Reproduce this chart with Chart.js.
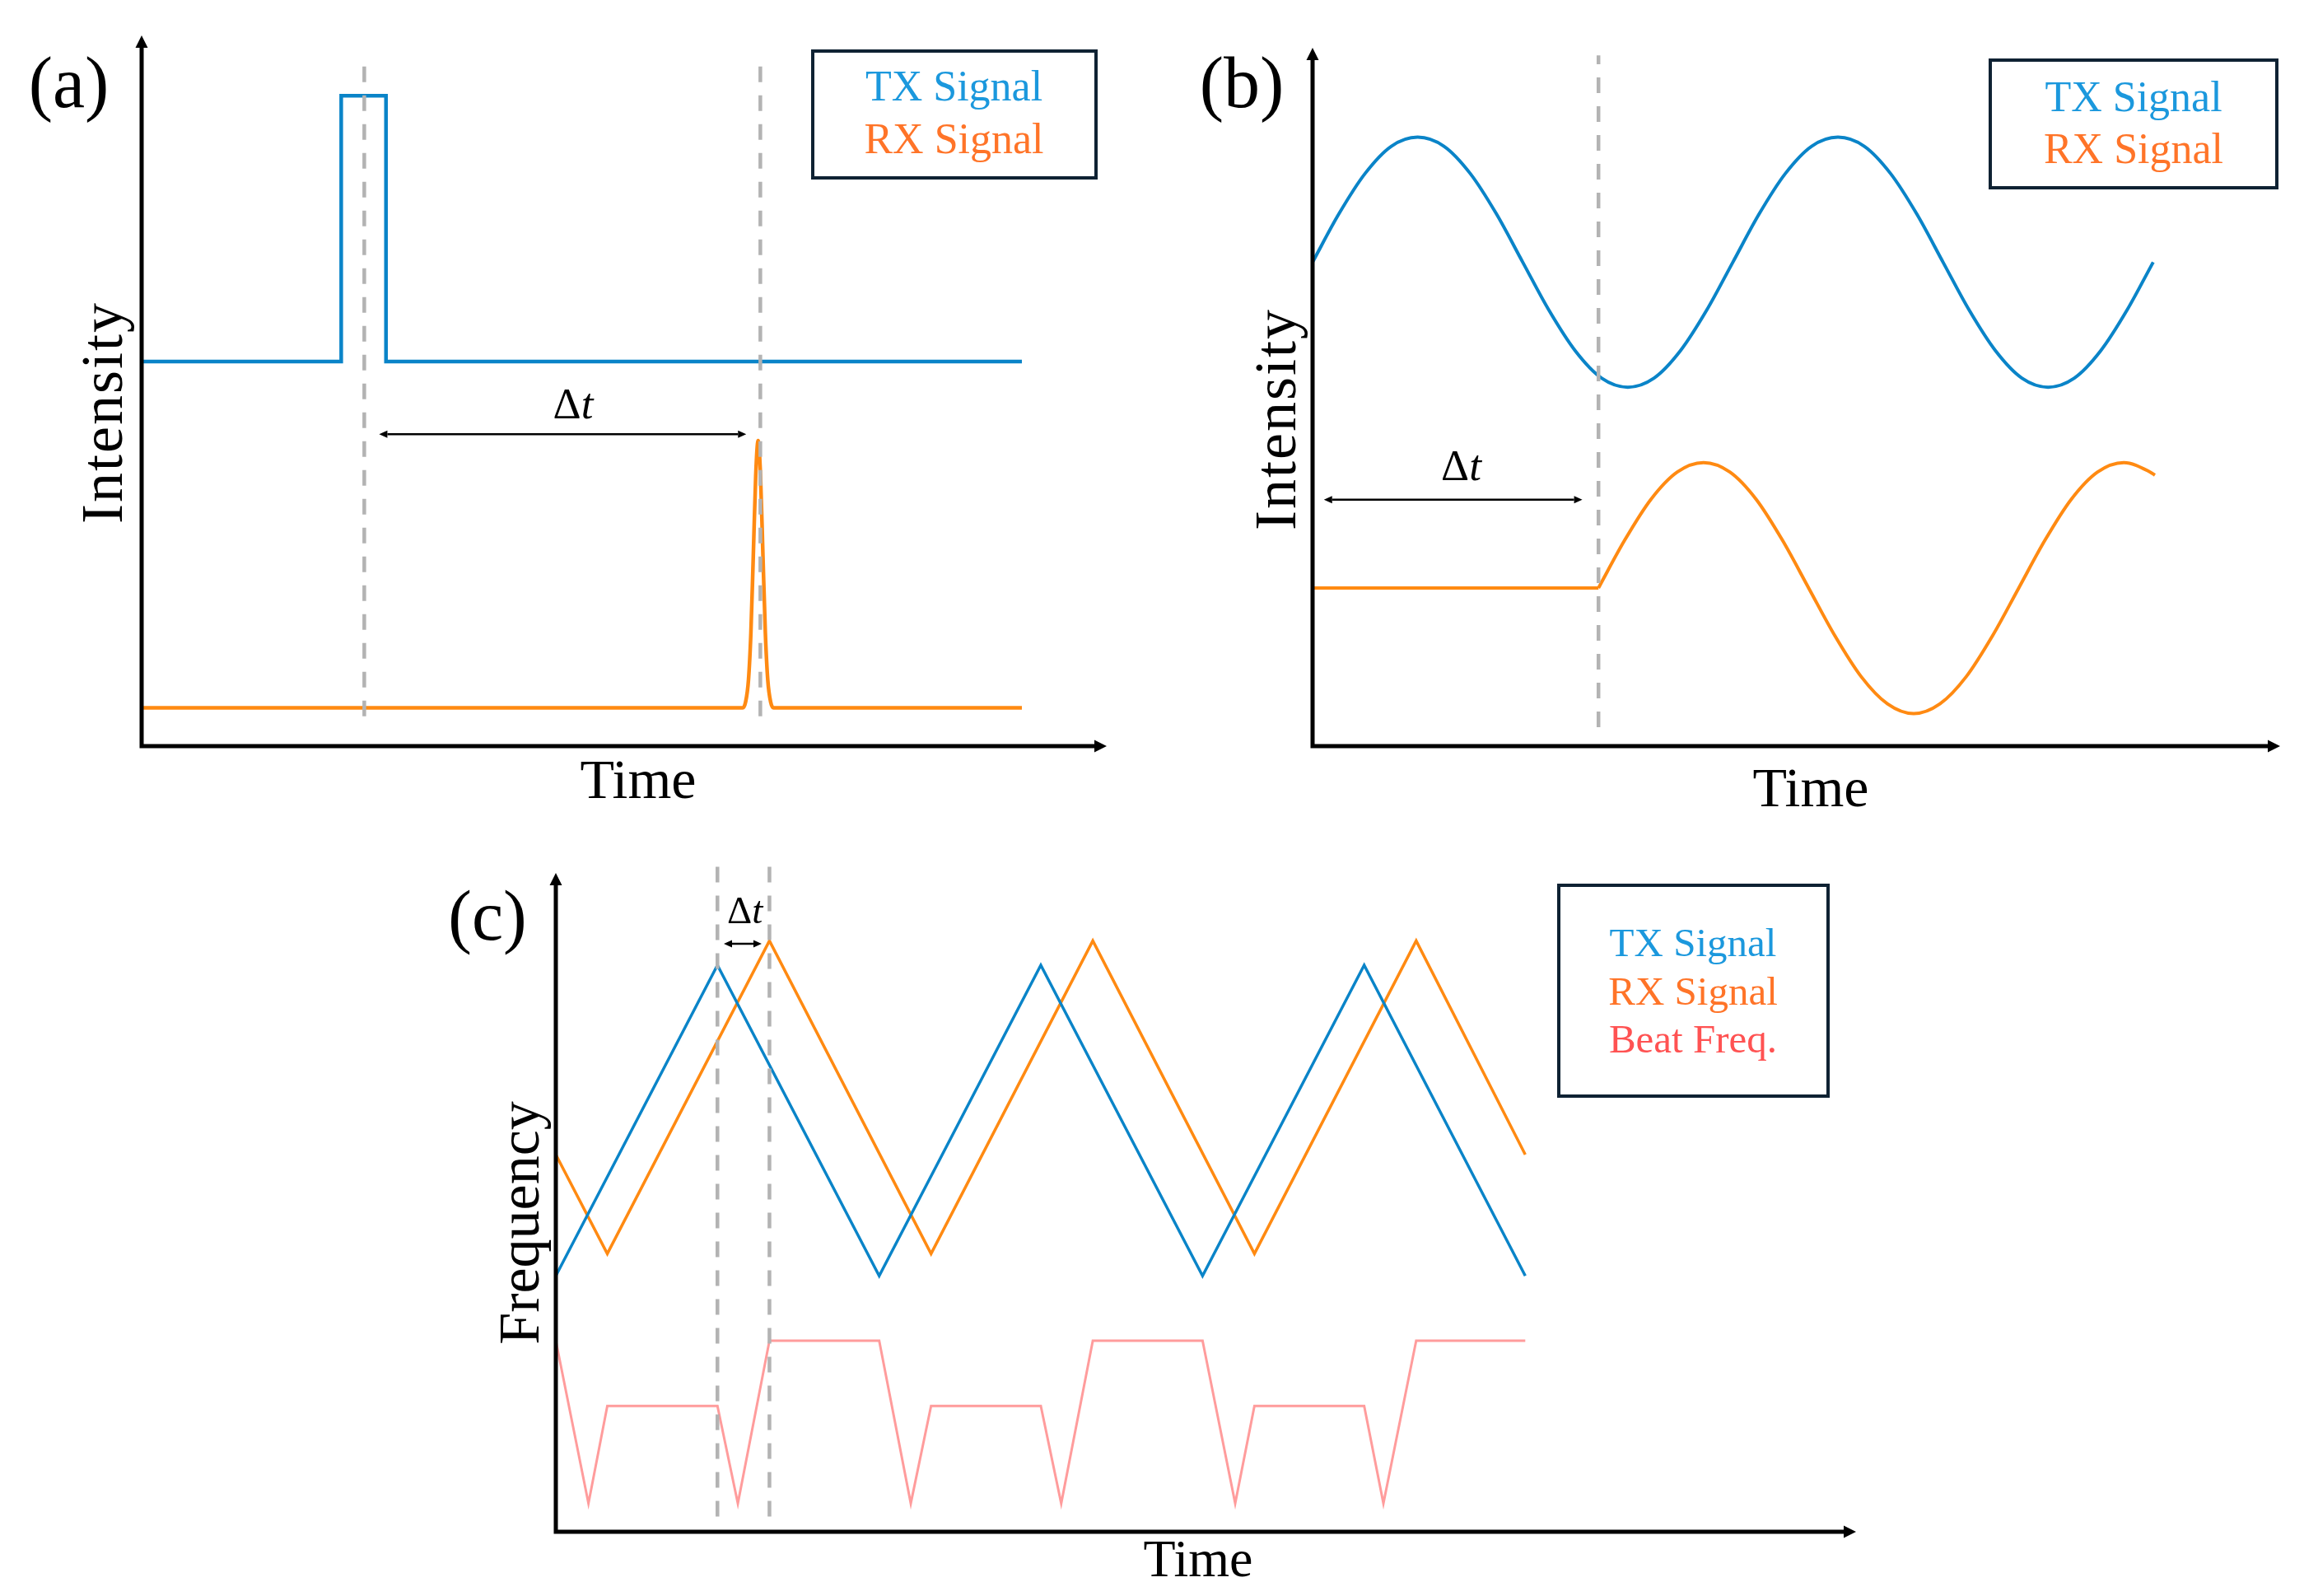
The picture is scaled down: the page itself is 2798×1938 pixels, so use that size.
<!DOCTYPE html>
<html>
<head>
<meta charset="utf-8">
<title>Pulsed / CW / FMCW radar signals</title>
<script src="https://cdn.jsdelivr.net/npm/chart.js@4.4.1/dist/chart.umd.min.js"></script>
<style>
  body { margin: 0; background: #fff; }
  #page { position: relative; width: 2798px; height: 1938px; overflow: hidden;
    font-family: "Liberation Serif", "Times New Roman", serif; color: #000; }
  canvas { position: absolute; }
  .t { position: absolute; white-space: nowrap; text-align: center; line-height: 1; }
  .box { position: absolute; box-sizing: border-box; border: 4px solid #0f2233; background: #fff; }
</style>
</head>
<body>
<div id="page"></div>
<script>
// ---- (a) pulsed radar: time 0..100, intensity 0..100
const aTxTime = [0, 20.68, 20.68, 25.32, 25.32, 91.21];
const aTx     = [54.1, 54.1, 91.5, 91.5, 54.1, 54.1];
const aRxTime = [0, 62.28, 62.58, 62.88, 63.13, 63.38, 63.63, 63.88, 64.13, 64.38, 64.63, 64.88, 65.18, 65.48, 91.21];
const aRx     = [5.4, 5.4, 6.2, 9.3, 15.9, 26.8, 38.0, 43.0, 38.0, 26.8, 15.9, 9.3, 6.2, 5.4, 5.4];
const aMarkers = [23.07, 64.11];
const aMarkerSpan = [4.2, 97.4];
const aDelta = [24.61, 62.65];
const aDeltaLevel = 43.9;

// ---- (b) continuous wave
const bTxTime = [0, 2.715, 5.43, 8.145, 10.86, 13.575, 16.29, 19.005, 21.72, 24.435, 27.15, 29.865,
                 32.58, 35.295, 38.01, 40.725, 43.44, 46.155, 48.87, 51.585, 54.30, 57.015, 59.73,
                 62.445, 65.16, 67.875, 70.59, 73.305, 76.02, 78.735, 81.45, 84.165, 86.88];
const bTx     = [69.3, 76.2, 82.0, 85.9, 87.2, 85.9, 82.0, 76.2, 69.3, 62.4, 56.6, 52.7,
                 51.4, 52.7, 56.6, 62.4, 69.3, 76.2, 82.0, 85.9, 87.2, 85.9, 82.0,
                 76.2, 69.3, 62.4, 56.6, 52.7, 51.4, 52.7, 56.6, 62.4, 69.3];
const bRxIdleTime = [0, 29.55];
const bRxIdle     = [22.65, 22.65];
const bRxTime = [29.55, 32.265, 34.98, 37.695, 40.41, 43.125, 45.84, 48.555, 51.27, 53.985, 56.70,
                 59.415, 62.13, 64.845, 67.56, 70.275, 72.99, 75.705, 78.42, 81.135, 83.85, 86.565, 87.06];
const bRx     = [22.65, 29.5, 35.35, 39.25, 40.6, 39.25, 35.35, 29.5, 22.65, 15.8, 9.95,
                 6.05, 4.65, 6.05, 9.95, 15.8, 22.65, 29.5, 35.35, 39.25, 40.6, 39.25, 38.8];
const bMarkers = [29.55];
const bMarkerSpan = [2.7, 98.9];
const bDelta = [1.17, 27.88];
const bDeltaLevel = 35.3;

// ---- (c) FMCW
const cTxTime = [0, 12.43, 24.87, 37.30, 49.74, 62.17, 74.56];
const cTx     = [38.85, 86.0, 38.85, 86.0, 38.85, 86.0, 38.85];
const cRxTime = [0, 3.96, 16.43, 28.86, 41.30, 53.73, 66.17, 74.56];
const cRx     = [57.25, 42.2, 89.7, 42.2, 89.7, 42.2, 89.7, 57.25];
const cBeatTime = [0, 2.51, 3.96, 12.43, 14.0, 16.43, 24.87, 27.3, 28.86, 37.30, 38.87, 41.30,
                   49.74, 52.25, 53.73, 62.17, 63.65, 66.17, 74.56];
const cBeat     = [29.0, 4.3, 19.1, 19.1, 4.3, 29.0, 29.0, 4.3, 19.1, 19.1, 4.3, 29.0,
                   29.0, 4.3, 19.1, 19.1, 4.3, 29.0, 29.0];
const cMarkers = [12.43, 16.43];
const cMarkerSpan = [2.3, 101.5];
const cDelta = [12.92, 15.83];
const cDeltaLevel = 89.25;

const TX = "#0a84c8", RX = "#ff8a12", BEAT = "#ff9c9c", DASH = "#b3b3b3";
const page = document.getElementById("page");
const PAD = 30;

const pts = (xs, ys) => xs.map((x, i) => ({ x, y: ys[i] }));

const line = (xs, ys, color, width, smooth) => ({
  data: pts(xs, ys), borderColor: color, borderWidth: width, pointRadius: 0,
  fill: false, clip: false, borderJoinStyle: "miter",
  cubicInterpolationMode: smooth ? "monotone" : "default", tension: 0,
});

const markers = (xs, span) => xs.map((x) => ({
  data: [{ x, y: span[0] }, { x, y: span[1] }], borderColor: DASH, borderWidth: 4.5,
  borderDash: [19, 16], pointRadius: 0, clip: false,
}));

// Axes with arrow heads + the double-headed Δt arrow.
const schematic = {
  id: "schematic",
  afterDatasetsDraw(chart, args, opts) {
    const { ctx, chartArea: a, scales } = chart;
    const head = 15;
    ctx.save();
    ctx.fillStyle = ctx.strokeStyle = "#000";
    ctx.lineWidth = 5;
    ctx.beginPath();
    ctx.moveTo(a.left, a.bottom + 2.5); ctx.lineTo(a.left, a.top + head);
    ctx.moveTo(a.left - 2.5, a.bottom); ctx.lineTo(a.right - head, a.bottom);
    ctx.stroke();
    ctx.beginPath();
    ctx.moveTo(a.left, a.top); ctx.lineTo(a.left - 7.5, a.top + head); ctx.lineTo(a.left + 7.5, a.top + head);
    ctx.closePath();
    ctx.moveTo(a.right, a.bottom); ctx.lineTo(a.right - head, a.bottom - 7.5); ctx.lineTo(a.right - head, a.bottom + 7.5);
    ctx.closePath();
    ctx.fill();

    const x1 = scales.x.getPixelForValue(opts.delta[0]);
    const x2 = scales.x.getPixelForValue(opts.delta[1]);
    const y = scales.y.getPixelForValue(opts.level);
    const h = 10;
    ctx.lineWidth = 2.5;
    ctx.beginPath();
    ctx.moveTo(x1 + h, y); ctx.lineTo(x2 - h, y);
    ctx.stroke();
    ctx.beginPath();
    ctx.moveTo(x1, y); ctx.lineTo(x1 + h, y - 4.5); ctx.lineTo(x1 + h, y + 4.5); ctx.closePath();
    ctx.moveTo(x2, y); ctx.lineTo(x2 - h, y - 4.5); ctx.lineTo(x2 - h, y + 4.5); ctx.closePath();
    ctx.fill();
    ctx.restore();
  },
};

function panel(area, datasets, delta, level) {
  const cv = document.createElement("canvas");
  cv.width = area.w + 2 * PAD; cv.height = area.h + 2 * PAD;
  cv.style.left = (area.x - PAD) + "px"; cv.style.top = (area.y - PAD) + "px";
  cv.style.width = cv.width + "px"; cv.style.height = cv.height + "px";
  page.appendChild(cv);
  return new Chart(cv, {
    type: "line",
    data: { datasets },
    options: {
      responsive: false, animation: false, devicePixelRatio: 1,
      layout: { padding: PAD },
      scales: {
        x: { type: "linear", min: 0, max: 100, display: false },
        y: { min: 0, max: 100, display: false },
      },
      plugins: { legend: { display: false }, tooltip: { enabled: false },
        schematic: { delta, level } },
    },
    plugins: [schematic],
  });
}

panel({ x: 172, y: 43, w: 1172, h: 863 }, [
  ...markers(aMarkers, aMarkerSpan),
  line(aTxTime, aTx, TX, 4.5, false),
  line(aRxTime, aRx, RX, 4.5, true),
], aDelta, aDeltaLevel);

panel({ x: 1594, y: 58, w: 1175, h: 848 }, [
  ...markers(bMarkers, bMarkerSpan),
  line(bTxTime, bTx, TX, 4, true),
  line(bRxIdleTime, bRxIdle, RX, 4, false),
  line(bRxTime, bRx, RX, 4, true),
], bDelta, bDeltaLevel);

panel({ x: 675, y: 1060, w: 1579, h: 800 }, [
  ...markers(cMarkers, cMarkerSpan),
  line(cTxTime, cTx, TX, 3.5, false),
  line(cRxTime, cRx, RX, 3.5, false),
  line(cBeatTime, cBeat, BEAT, 3, false),
], cDelta, cDeltaLevel);

// ---- text (centre x, baseline y)
function text(html, cx, base, size, color, extra) {
  const d = document.createElement("div");
  d.className = "t";
  d.innerHTML = html;
  d.style.cssText += `left:${cx - 400}px;width:800px;top:${base - 0.8375 * size}px;font-size:${size}px;color:${color || "#000"};` + (extra || "");
  page.appendChild(d);
}
// rotated label: baseline x, centre y
function vtext(html, bx, cy, size, extra) {
  const d = document.createElement("div");
  d.className = "t";
  d.innerHTML = html;
  d.style.cssText += `left:${bx - 0.3375 * size - 400}px;width:800px;top:${cy - size / 2}px;height:${size}px;font-size:${size}px;transform:rotate(-90deg);` + (extra || "");
  page.appendChild(d);
}
function box(x1, y1, x2, y2) {
  const d = document.createElement("div");
  d.className = "box";
  d.style.cssText += `left:${x1}px;top:${y1}px;width:${x2 - x1}px;height:${y2 - y1}px;`;
  page.appendChild(d);
}

const TXT_TX = "#1b98dd", TXT_RX = "#ff7428", TXT_BEAT = "#ff5252";

text("(a)", 83.5, 131, 88);
text("(b)", 1508, 131, 88);
text("(c)", 592, 1141, 86);

text("Time", 775, 969, 68);
text("Time", 2199, 979, 68);
text("Time", 1455, 1915, 64);

vtext("Intensity", 148, 501, 72, "letter-spacing:2px;");
vtext("Intensity", 1573, 508.5, 72, "letter-spacing:2px;");
vtext("Frequency", 655, 1484.6, 70);

text("Δ<i>t</i>", 696, 508, 53);
text("Δ<i>t</i>", 1774.5, 583.5, 53);
text("Δ<i>t</i>", 904.7, 1121, 47);

box(985, 60, 1333, 218);
text("TX Signal", 1158.5, 123, 52, TXT_TX);
text("RX Signal", 1158.5, 187, 52, TXT_RX);

box(2415, 71, 2767, 230);
text("TX Signal", 2591, 136, 52, TXT_TX);
text("RX Signal", 2591, 199, 52, TXT_RX);

box(1891, 1073, 2222, 1333);
text("TX Signal", 2056, 1160.7, 49, TXT_TX);
text("RX Signal", 2056, 1220, 49, TXT_RX);
text("Beat Freq.", 2056, 1278.3, 49, TXT_BEAT);
</script>
</body>
</html>
